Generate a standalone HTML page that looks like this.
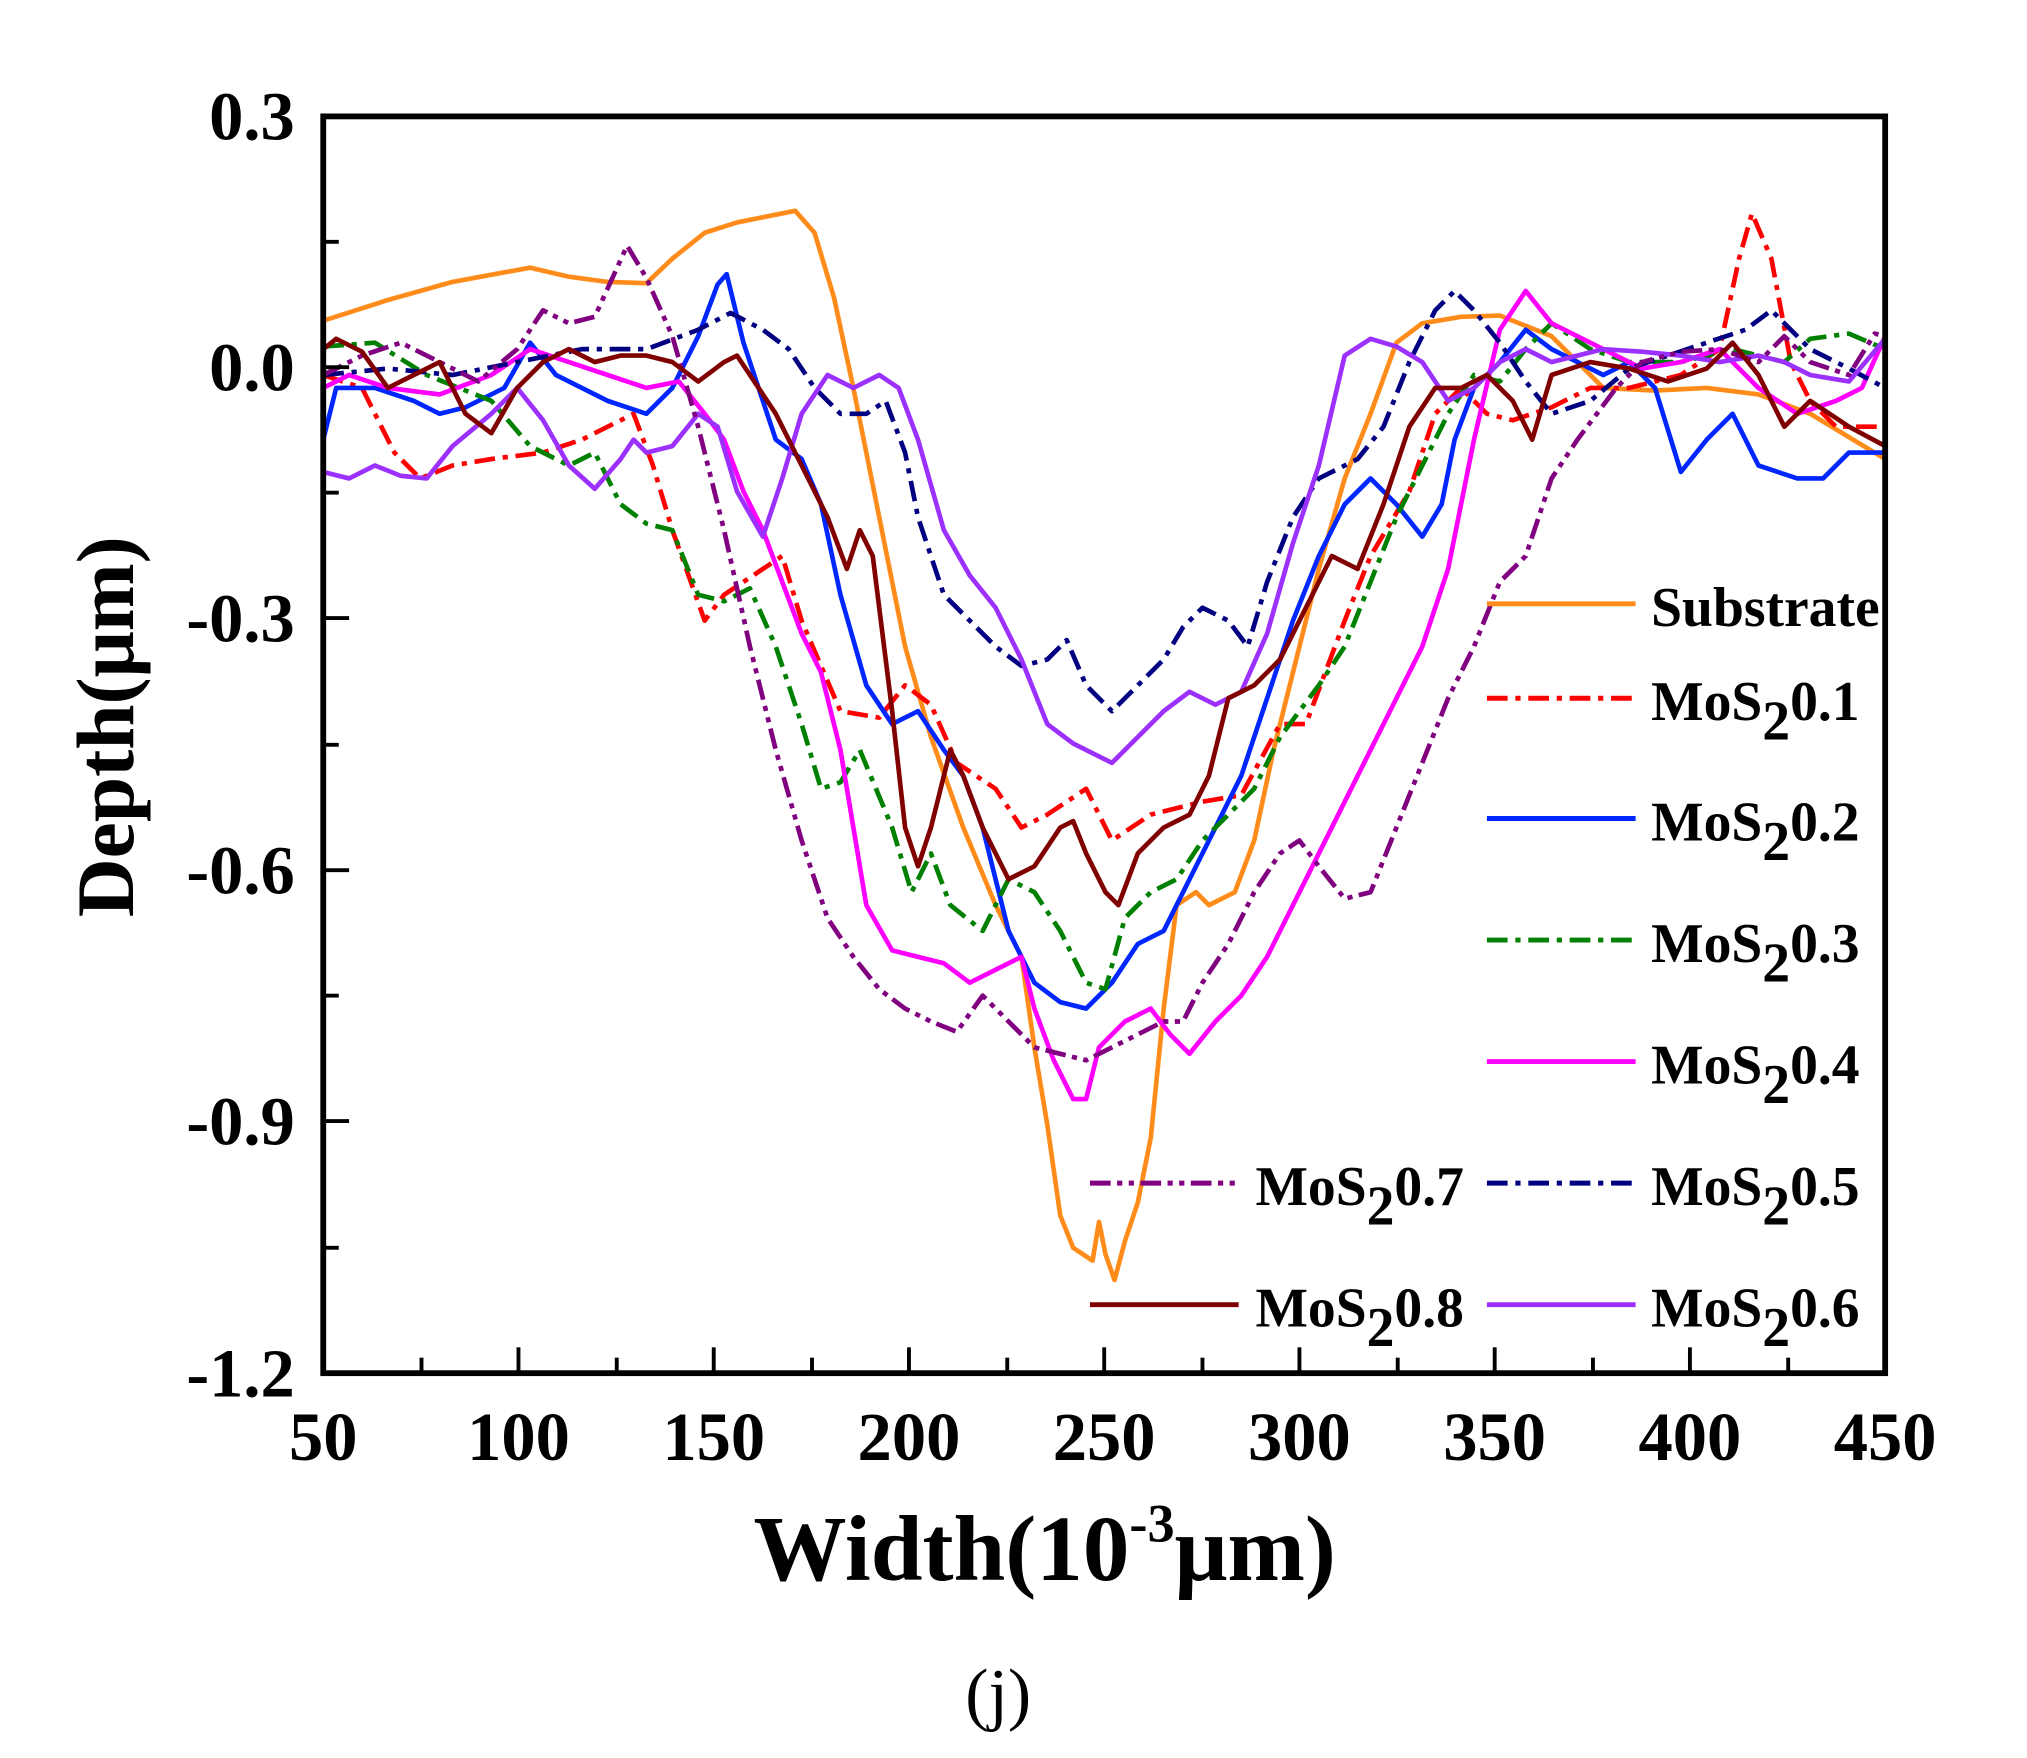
<!DOCTYPE html>
<html><head><meta charset="utf-8"><style>html,body{margin:0;padding:0;background:#fff}svg{display:block}</style></head>
<body>
<svg width="2027" height="1758" viewBox="0 0 1567.7 1359.6" xmlns="http://www.w3.org/2000/svg" font-family="'Liberation Serif', serif">
<rect width="1567.7" height="1359.6" fill="#fff"/>
<g fill="none" stroke-width="3.6" stroke-linejoin="round">
<polyline stroke="#FF8C1A" points="250,248 300,232 350,218 410,207 440,214 470,218 500,219 520,200 545,180 570,172 600,166 615,163 630,180 645,230 660,300 680,400 700,500 720,570 745,640 770,700 790,740 800,810 810,870 820,940 830,965 845,975 850,945 855,970 862,990 870,960 880,930 890,880 900,780 910,700 925,690 935,700 955,690 970,650 985,580 1000,520 1020,440 1040,370 1060,320 1080,265 1100,250 1130,245 1160,244 1200,260 1240,300 1280,302 1320,300 1360,305 1400,320 1458,355"/>
<polyline stroke="#FF0000" stroke-dasharray="16 6 4 6" points="250,290 280,300 290,320 305,350 325,370 350,360 380,355 420,350 450,340 470,330 490,320 505,360 520,410 545,480 560,460 590,440 605,430 620,480 650,550 680,555 700,530 720,545 740,590 770,610 790,640 810,630 840,610 860,650 890,630 930,620 960,615 990,560 1010,560 1040,480 1060,430 1090,380 1110,320 1130,300 1150,320 1170,325 1200,315 1230,300 1260,300 1300,290 1330,270 1345,200 1355,165 1370,200 1385,280 1400,310 1420,330 1458,330"/>
<polyline stroke="#0026FF" points="250,340 260,300 290,300 320,310 340,320 360,315 390,300 410,265 430,290 470,310 500,320 520,300 540,260 555,220 562,212 575,265 600,340 620,355 635,390 650,460 670,530 690,560 710,550 730,580 745,600 760,640 780,720 800,760 820,775 840,780 860,760 880,730 900,720 920,680 940,640 960,600 980,540 1000,480 1020,430 1040,390 1060,370 1080,390 1100,415 1115,390 1125,340 1140,300 1160,280 1180,255 1200,270 1220,280 1240,290 1260,280 1280,300 1300,365 1320,340 1340,320 1360,360 1390,370 1410,370 1430,350 1458,350"/>
<polyline stroke="#008000" stroke-dasharray="16 6 4 6" points="250,268 290,265 330,290 380,310 410,345 440,360 460,350 480,390 500,405 520,410 540,460 560,465 580,455 600,500 620,560 635,610 650,605 665,580 690,640 705,690 720,660 735,700 760,720 780,680 800,690 820,720 840,760 855,765 870,710 890,690 910,680 930,650 950,630 970,610 990,570 1020,530 1040,500 1060,450 1080,400 1100,360 1120,320 1140,290 1160,295 1180,270 1200,250 1230,270 1260,280 1300,280 1340,270 1380,280 1400,262 1430,258 1458,270"/>
<polyline stroke="#FF00FF" points="250,300 270,290 300,300 340,305 380,290 410,270 440,280 470,290 500,300 525,295 545,320 560,340 575,380 590,410 605,450 620,490 635,520 650,580 660,640 670,700 690,735 710,740 730,745 750,760 770,750 790,740 800,780 815,820 830,850 840,850 850,810 870,790 890,780 905,800 920,815 940,790 960,770 980,740 1000,700 1020,660 1040,620 1060,580 1080,540 1100,500 1120,440 1140,340 1160,255 1180,225 1200,250 1230,265 1270,285 1300,280 1330,270 1360,300 1390,320 1420,310 1440,300 1458,260"/>
<polyline stroke="#000080" stroke-dasharray="16 6 4 6" points="250,290 300,285 350,290 400,280 450,270 500,270 540,255 565,242 590,255 610,270 630,300 650,320 670,320 685,310 700,350 710,400 730,460 750,480 770,500 790,515 810,510 825,495 840,530 860,550 880,530 900,510 915,485 930,470 950,480 965,500 980,450 1000,400 1020,370 1050,355 1070,330 1090,280 1110,240 1125,225 1140,240 1160,265 1180,295 1200,320 1230,310 1260,285 1290,275 1320,265 1350,255 1370,240 1400,270 1430,285 1458,300"/>
<polyline stroke="#9B30FF" points="250,365 270,370 290,360 310,368 330,370 350,345 380,320 400,300 420,325 440,360 460,378 480,355 490,340 500,350 520,345 540,320 555,330 570,380 590,415 605,370 620,320 640,290 660,300 680,290 695,300 710,340 730,410 750,445 770,470 790,510 810,560 830,575 850,585 860,590 880,570 900,550 920,535 940,545 960,535 980,490 1000,420 1020,360 1040,275 1060,262 1080,268 1100,280 1120,310 1140,300 1160,280 1180,270 1200,280 1240,270 1270,272 1300,275 1330,280 1360,275 1380,280 1400,290 1430,295 1458,262"/>
<polyline stroke="#800080" stroke-dasharray="16 5 4 5 4 5" points="250,290 280,275 310,265 340,280 370,295 400,270 420,240 440,250 460,245 485,190 500,215 520,260 540,330 560,410 580,500 600,580 620,650 640,710 660,740 680,765 700,780 720,790 740,798 760,770 780,790 800,810 820,815 840,820 860,810 880,800 900,790 915,790 930,760 950,730 970,690 990,660 1005,650 1020,670 1040,695 1060,690 1080,640 1100,590 1120,540 1140,500 1160,450 1180,430 1200,370 1220,340 1250,300 1270,280 1300,272 1330,270 1360,280 1380,260 1400,280 1430,290 1450,258 1458,260"/>
<polyline stroke="#800000" points="250,270 260,262 280,272 300,300 320,290 340,280 360,320 380,335 400,300 420,280 440,270 460,280 480,275 500,275 520,280 540,295 560,280 570,275 580,290 600,320 620,360 640,400 655,440 665,410 675,430 690,550 700,640 710,670 720,640 735,580 745,600 760,640 780,680 800,670 820,640 830,635 840,660 855,690 865,700 880,660 900,640 920,630 935,600 950,540 970,530 990,510 1010,470 1030,430 1050,440 1070,390 1090,330 1110,300 1130,300 1150,290 1170,310 1185,340 1200,290 1230,280 1260,285 1290,295 1320,285 1340,265 1360,290 1380,330 1400,310 1430,330 1458,345"/>
</g>
<rect x="250" y="90" width="1208" height="972" fill="none" stroke="#000" stroke-width="4.5"/>
<g stroke="#000" stroke-width="3">
<line x1="250" y1="187" x2="262" y2="187"/><line x1="250" y1="284" x2="270" y2="284"/><line x1="250" y1="381" x2="262" y2="381"/><line x1="250" y1="478" x2="270" y2="478"/><line x1="250" y1="576" x2="262" y2="576"/><line x1="250" y1="673" x2="270" y2="673"/><line x1="250" y1="770" x2="262" y2="770"/><line x1="250" y1="867" x2="270" y2="867"/><line x1="250" y1="965" x2="262" y2="965"/>
<line x1="326" y1="1062" x2="326" y2="1050"/><line x1="401" y1="1062" x2="401" y2="1042"/><line x1="477" y1="1062" x2="477" y2="1050"/><line x1="552" y1="1062" x2="552" y2="1042"/><line x1="628" y1="1062" x2="628" y2="1050"/><line x1="703" y1="1062" x2="703" y2="1042"/><line x1="779" y1="1062" x2="779" y2="1050"/><line x1="854" y1="1062" x2="854" y2="1042"/><line x1="930" y1="1062" x2="930" y2="1050"/><line x1="1005" y1="1062" x2="1005" y2="1042"/><line x1="1081" y1="1062" x2="1081" y2="1050"/><line x1="1156" y1="1062" x2="1156" y2="1042"/><line x1="1232" y1="1062" x2="1232" y2="1050"/><line x1="1307" y1="1062" x2="1307" y2="1042"/><line x1="1383" y1="1062" x2="1383" y2="1050"/>
</g>
<g font-size="53" font-weight="bold" text-anchor="end">
<text x="228" y="108">0.3</text><text x="228" y="302">0.0</text><text x="228" y="496">-0.3</text><text x="228" y="691">-0.6</text><text x="228" y="885">-0.9</text><text x="228" y="1080">-1.2</text>
</g>
<g font-size="53" font-weight="bold" text-anchor="middle">
<text x="250" y="1129">50</text><text x="401" y="1129">100</text><text x="552" y="1129">150</text><text x="703" y="1129">200</text><text x="854" y="1129">250</text><text x="1005" y="1129">300</text><text x="1156" y="1129">350</text><text x="1307" y="1129">400</text><text x="1458" y="1129">450</text>
</g>
<text x="808" y="1222" font-size="72" font-weight="bold" text-anchor="middle">Width(10<tspan font-size="42" dy="-30">-3</tspan><tspan dy="30">μm)</tspan></text>
<text transform="translate(103,562) rotate(-90)" font-size="63" font-weight="bold" text-anchor="middle">Depth(μm)</text>
<text x="772" y="1328" font-size="54" text-anchor="middle">(j)</text>
<g stroke-width="3.8">
<line x1="1150" y1="467" x2="1265" y2="467" stroke="#FF8C1A"/>
<line x1="1150" y1="540" x2="1265" y2="540" stroke="#FF0000" stroke-dasharray="16 6 4 6"/>
<line x1="1150" y1="633" x2="1265" y2="633" stroke="#0026FF"/>
<line x1="1150" y1="727" x2="1265" y2="727" stroke="#008000" stroke-dasharray="16 6 4 6"/>
<line x1="1150" y1="821" x2="1265" y2="821" stroke="#FF00FF"/>
<line x1="1150" y1="915" x2="1265" y2="915" stroke="#000080" stroke-dasharray="16 6 4 6"/>
<line x1="1150" y1="1009" x2="1265" y2="1009" stroke="#9B30FF"/>
<line x1="843" y1="915" x2="958" y2="915" stroke="#800080" stroke-dasharray="16 5 4 5 4 5"/>
<line x1="843" y1="1009" x2="958" y2="1009" stroke="#800000"/>
</g>
<g font-size="43" font-weight="bold">
<text x="1277" y="484">Substrate</text>
<text x="1277" y="557">MoS<tspan dy="15">2</tspan><tspan dy="-15">0.1</tspan></text>
<text x="1277" y="650">MoS<tspan dy="15">2</tspan><tspan dy="-15">0.2</tspan></text>
<text x="1277" y="744">MoS<tspan dy="15">2</tspan><tspan dy="-15">0.3</tspan></text>
<text x="1277" y="838">MoS<tspan dy="15">2</tspan><tspan dy="-15">0.4</tspan></text>
<text x="1277" y="932">MoS<tspan dy="15">2</tspan><tspan dy="-15">0.5</tspan></text>
<text x="1277" y="1026">MoS<tspan dy="15">2</tspan><tspan dy="-15">0.6</tspan></text>
<text x="971" y="932">MoS<tspan dy="15">2</tspan><tspan dy="-15">0.7</tspan></text>
<text x="971" y="1026">MoS<tspan dy="15">2</tspan><tspan dy="-15">0.8</tspan></text>
</g>
</svg>
</body></html>
